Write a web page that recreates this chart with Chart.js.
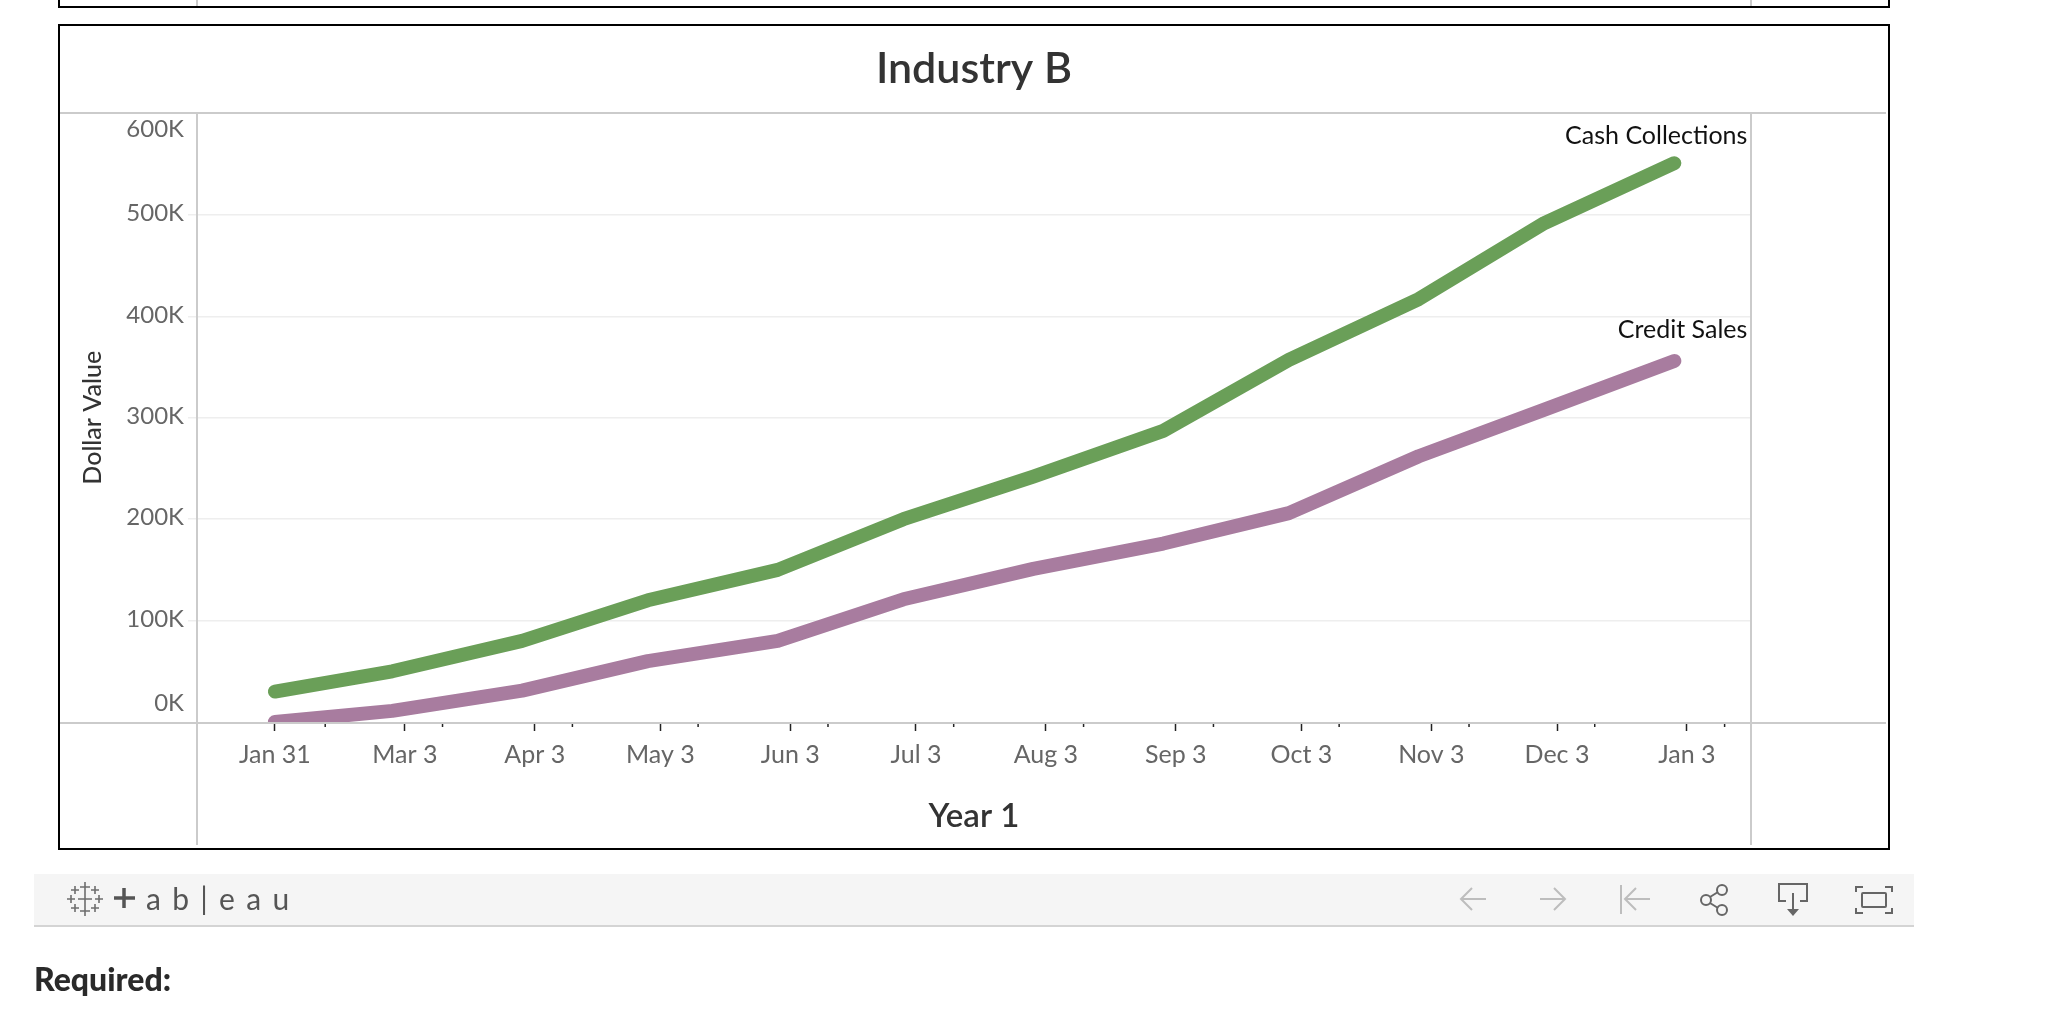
<!DOCTYPE html>
<html>
<head>
<meta charset="utf-8">
<title>Industry B</title>
<script src="https://cdn.jsdelivr.net/npm/chart.js@4"></script>
<style>
html, body { margin: 0; padding: 0; background: #fff; }
body { position: relative; width: 2062px; height: 1018px; overflow: hidden; font-family: Lato, sans-serif; }
.abs { position: absolute; }
.frame { position: absolute; box-sizing: border-box; border: 2px solid #000; left: 58px; width: 1832px; }
.rule { position: absolute; background: #cbcbcb; }
#toolbar { left: 34px; top: 874px; width: 1880px; height: 53px; box-sizing: border-box; background: #f5f5f5; border-bottom: 2px solid #d4d4d4; }
#logoText { left: 146px; top: 878px; font-size: 30px; line-height: 40px; letter-spacing: 1.8px; color: #555; white-space: pre; }
#required { left: 34px; top: 960px; font-size: 32px; line-height: 38px; font-weight: 900; color: #2a2a2a; }
svg { position: absolute; overflow: visible; }
</style>
</head>
<body>
<div class="frame" style="top:-12px;height:20px"></div>
<div class="rule" style="left:196px;top:0;width:2px;height:6px"></div>
<div class="rule" style="left:1750px;top:0;width:2px;height:6px"></div>
<div class="frame" style="top:24px;height:826px"></div>

<canvas id="chart" class="abs" width="1828" height="822" style="left:60px;top:26px"></canvas>

<div class="rule" style="left:60px;top:112px;width:1826px;height:2px"></div>
<div class="rule" style="left:60px;top:722px;width:1826px;height:2px"></div>
<div class="rule" style="left:196px;top:113px;width:2px;height:732px"></div>
<div class="rule" style="left:1750px;top:113px;width:2px;height:732px"></div>

<div id="toolbar" class="abs"></div>
<svg style="left:0;top:0" width="2062" height="1018" fill="none">
  <g stroke="#6e6e6e" stroke-width="1.6">
    <path d="M85 882v10M80 887h10M75 886v8M71 890h8M95 886v8M91 890h8M85 892v14M78 899h14M71 895v8M67 899h8M99 895v8M95 899h8M75 904v8M71 908h8M95 904v8M91 908h8M85 906v10M80 911h10"/>
  </g>
  <path d="M124 888v20M114 898h21" stroke="#555" stroke-width="3.5"/>
  <g stroke="#bdbdbd" stroke-width="2">
    <path d="M1486 899h-25M1472 888l-11 11 11 11"/>
    <path d="M1540 899h25M1554 888l11 11-11 11"/>
    <path d="M1621 885v29M1650 899h-25M1636 888l-11 11 11 11"/>
  </g>
  <g stroke="#666" stroke-width="2">
    <circle cx="1722" cy="890" r="5"/><circle cx="1722" cy="910" r="5"/><circle cx="1706" cy="900" r="5"/>
    <path d="M1710 897l8-5M1710 903l8 5"/>
    <path d="M1786 901h-7v-17h28v17h-7M1793 893v16"/>
    <path d="M1856 892v-5h7M1885 887h7v5M1892 908v5h-7M1863 913h-7v-5"/>
    <rect x="1862" y="893" width="24" height="14" rx="1"/>
  </g>
  <path d="M1787 909h12l-6 7z" fill="#666"/>
</svg>
<div id="logoText" class="abs">a b | e a u</div>
<div id="required" class="abs">Required:</div>

<script>
// days counted from Jan 31 of year 1
const pointDays = [0, 28, 59, 89, 120, 150, 181, 212, 242, 273, 303, 334];
const cashCollections = [30000, 50000, 80000, 120000, 150000, 200000, 242000, 287000, 357000, 417000, 492000, 551000];
const creditSales = [0, 11000, 31000, 60000, 80000, 121000, 151000, 176000, 206000, 262000, 308000, 356000];

const tickDays = [0, 31, 62, 92, 123, 153, 184, 215, 245, 276, 306, 337];
const tickLabels = ["Jan 31", "Mar 3", "Apr 3", "May 3", "Jun 3", "Jul 3", "Aug 3", "Sep 3", "Oct 3", "Nov 3", "Dec 3", "Jan 3"];
const minorTickDays = [12, 40, 71, 101, 132, 162, 193, 224, 254, 285, 315, 346];

const seriesNames = ["Cash Collections", "Credit Sales"];
const FONT = "Lato, sans-serif";

function toPoints(values) {
	return values.map((v, i) => ({ x: pointDays[i], y: v }));
}

// tableau nudges the first and last value labels inside the pane
const tweakYLabels = {
	id: "tweakYLabels",
	afterLayout(chart) {
		const items = chart.scales.y.getLabelItems();
		const last = items.length - 1;
		items.forEach((item, i) => {
			let shift = -1.5;
			if (i === 0) shift = -19;
			if (i === last) shift = 16;
			item.options.translation[1] += shift;
		});
	}
};

const extras = {
	id: "extras",
	afterDraw(chart) {
		const ctx = chart.ctx;
		const x = chart.scales.x;
		const bottom = chart.chartArea.bottom;
		ctx.save();
		// short ticks
		ctx.strokeStyle = "#222";
		ctx.lineWidth = 1.5;
		minorTickDays.forEach(d => {
			const px = x.getPixelForValue(d);
			ctx.beginPath();
			ctx.moveTo(px, bottom);
			ctx.lineTo(px, bottom + 5);
			ctx.stroke();
		});
		// end of line labels
		ctx.fillStyle = "#111";
		ctx.font = "25px " + FONT;
		ctx.textAlign = "right";
		ctx.textBaseline = "middle";
		const lift = [27, 31];
		chart.data.datasets.forEach((ds, i) => {
			const meta = chart.getDatasetMeta(i);
			const end = meta.data[meta.data.length - 1];
			ctx.fillText(seriesNames[i], end.x + 73, end.y - lift[i]);
		});
		ctx.restore();
	}
};

new Chart(document.getElementById("chart"), {
	type: "line",
	data: {
		datasets: [
			{
				label: seriesNames[0],
				data: toPoints(cashCollections),
				borderColor: "#6a9f58",
				backgroundColor: "#6a9f58",
				borderWidth: 14,
				borderCapStyle: "round",
				borderJoinStyle: "round",
				pointRadius: 0,
				tension: 0,
				clip: 0
			},
			{
				label: seriesNames[1],
				data: toPoints(creditSales),
				borderColor: "#a87c9f",
				backgroundColor: "#a87c9f",
				borderWidth: 14,
				borderCapStyle: "round",
				borderJoinStyle: "round",
				pointRadius: 0,
				tension: 0,
				clip: 0
			}
		]
	},
	options: {
		responsive: false,
		animation: false,
		plugins: {
			legend: { display: false },
			tooltip: { enabled: false },
			title: {
				display: true,
				text: "Industry B",
				color: "#333",
				font: { family: FONT, size: 43, weight: "600", lineHeight: 1.2 },
				padding: { top: 17, bottom: 18.9 }
			}
		},
		scales: {
			x: {
				type: "linear",
				min: -18.6,
				max: 352.3,
				afterFit(scale) { scale.height = 126; },
				afterBuildTicks(scale) { scale.ticks = tickDays.map(d => ({ value: d })); },
				border: { display: false },
				grid: {
					drawOnChartArea: false,
					tickColor: "#222",
					tickLength: 9,
					tickWidth: 1.5
				},
				ticks: {
					autoSkip: false,
					maxRotation: 0,
					color: "#666",
					padding: 9,
					font: { family: FONT, size: 25 },
					callback: v => tickLabels[tickDays.indexOf(v)]
				},
				title: {
					display: true,
					text: "Year 1",
					color: "#333",
					font: { family: FONT, size: 33, weight: "600" },
					padding: { top: 0, bottom: 12 }
				}
			},
			y: {
				min: 0,
				max: 600000,
				afterFit(scale) { scale.width = 137; },
				border: { display: false },
				grid: {
					color: c => (c.tick.value === 0 || c.tick.value === 600000) ? "rgba(0,0,0,0)" : "#eeeeee",
					lineWidth: 1.5,
					tickLength: 9
				},
				ticks: {
					stepSize: 100000,
					color: "#666",
					padding: 4,
					font: { family: FONT, size: 24 },
					callback: v => (v / 1000) + "K"
				},
				title: {
					display: true,
					text: "Dollar Value",
					color: "#333",
					font: { family: FONT, size: 25, weight: "500" },
					padding: { top: 18, bottom: 0 }
				}
			},
			// empty axis, keeps the margin right of the pane so the title stays centred
			yRight: {
				position: "right",
				min: 0,
				max: 600000,
				afterFit(scale) { scale.width = 137; },
				border: { display: false },
				grid: { display: false },
				ticks: { display: false }
			}
		}
	},
	plugins: [tweakYLabels, extras]
});
</script>
</body>
</html>
